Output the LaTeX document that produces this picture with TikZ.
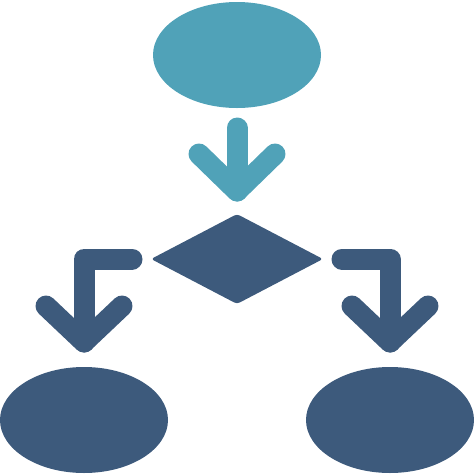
\documentclass[tikz,border=0pt]{standalone}
\usetikzlibrary{shapes.geometric}
\definecolor{tealc}{RGB}{80,162,184}
\definecolor{navyc}{RGB}{61,90,124}
\tikzset{
  oval/.style={ellipse, minimum width=168pt, minimum height=106pt, inner sep=0pt, fill=#1},
  decision/.style={diamond, minimum width=172pt, minimum height=90pt, inner sep=0pt, fill=navyc, rounded corners=3pt},
  flowline/.style={line width=21pt, line cap=round, line join=round, draw=#1},
}
\begin{document}
\begin{tikzpicture}[x=1pt,y=-1pt]
\useasboundingbox (0,0) rectangle (474,475);
% nodes
\node[oval=tealc] (start) at (237,55) {};
\node[decision] (dec) at (237,259) {};
\node[oval=navyc] (left) at (84,420) {};
\node[oval=navyc] (right) at (390,420) {};
% top arrow
\coordinate (t0) at (237,128);
\coordinate (t1) at (237,191);
\coordinate (ta) at (199,154);
\coordinate (tb) at (275,154);
\draw[flowline=tealc] (t0) -- (t1);
\draw[flowline=tealc] (ta) -- (t1) -- (tb);
% left elbow arrow
\coordinate (l0) at (132,259);
\coordinate (l1) at (84,259);
\coordinate (l2) at (84,342);
\coordinate (la) at (46,306);
\coordinate (lb) at (122,306);
\draw[flowline=navyc] (l0) -- (l1) -- (l2);
\draw[flowline=navyc] (la) -- (l2) -- (lb);
% right elbow arrow
\coordinate (r0) at (342,259);
\coordinate (r1) at (390,259);
\coordinate (r2) at (390,342);
\coordinate (ra) at (352,306);
\coordinate (rb) at (428,306);
\draw[flowline=navyc] (r0) -- (r1) -- (r2);
\draw[flowline=navyc] (ra) -- (r2) -- (rb);
\end{tikzpicture}
\end{document}
